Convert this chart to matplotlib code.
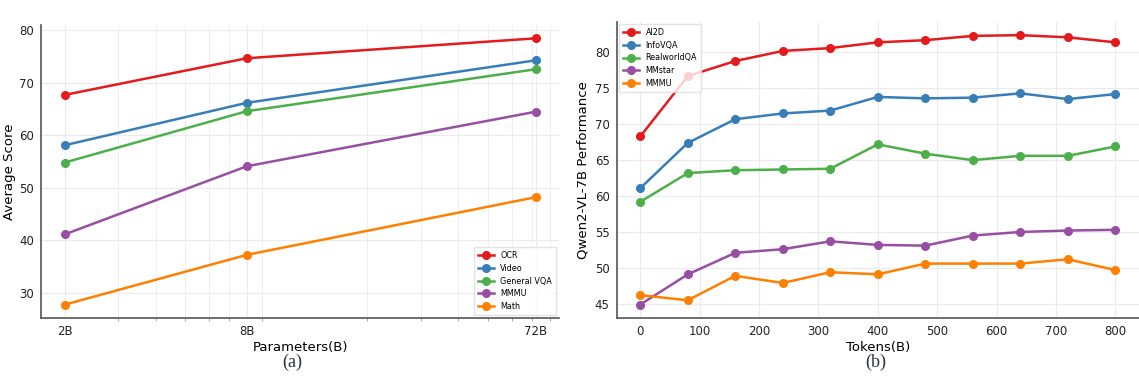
import matplotlib
matplotlib.use("Agg")
import matplotlib.pyplot as plt
from matplotlib.ticker import NullFormatter

# ---- data (a) ----
params = [2, 8, 72]
param_labels = ["2B", "8B", "72B"]
ocr = [67.7, 74.7, 78.5]
video = [58.1, 66.2, 74.3]
general_vqa = [54.8, 64.6, 72.6]
mmmu_a = [41.1, 54.1, 64.5]
math_a = [27.7, 37.2, 48.2]

# ---- data (b) ----
tokens = [0, 80, 160, 240, 320, 400, 480, 560, 640, 720, 800]
ai2d = [68.3, 76.7, 78.8, 80.2, 80.6, 81.4, 81.7, 82.3, 82.4, 82.1, 81.4]
infovqa = [61.1, 67.4, 70.7, 71.5, 71.9, 73.8, 73.6, 73.7, 74.3, 73.5, 74.2]
realworldqa = [59.2, 63.2, 63.6, 63.7, 63.8, 67.2, 65.9, 65.0, 65.6, 65.6, 66.9]
mmstar = [44.9, 49.1, 52.1, 52.6, 53.7, 53.2, 53.1, 54.5, 55.0, 55.2, 55.3]
mmmu_b = [46.2, 45.5, 48.9, 47.9, 49.4, 49.1, 50.6, 50.6, 50.6, 51.2, 49.7]

colors = ["#e41a1c", "#377eb8", "#4daf4a", "#984ea3", "#ff7f00"]

fig = plt.figure(figsize=(11.39, 3.9), dpi=100)
ax1 = fig.add_axes([0.036, 0.1846, 0.455, 0.7513])
ax2 = fig.add_axes([0.5413, 0.1846, 0.4587, 0.7598])

def style(ax):
    ax.set_facecolor("white")
    for s in ["top", "right"]:
        ax.spines[s].set_visible(False)
    for s in ["left", "bottom"]:
        ax.spines[s].set_color("#555555")
        ax.spines[s].set_linewidth(1.2)
    ax.tick_params(axis="both", which="major", length=0, labelsize=8.5,
                   colors="#222222", pad=5)
    ax.tick_params(axis="both", which="minor", length=2.5, color="#999999")
    ax.grid(True, which="major", color="#ebebeb", linewidth=0.8)
    ax.set_axisbelow(True)

lw = 1.8
ms = 5.5

series_a = [("OCR", ocr), ("Video", video), ("General VQA", general_vqa),
            ("MMMU", mmmu_a), ("Math", math_a)]
for (name, vals), c in zip(series_a, colors):
    ax1.plot(params, vals, "-o", color=c, lw=lw, ms=ms, label=name)
ax1.set_xscale("log")
style(ax1)
ax1.set_xticks(params)
ax1.set_xticklabels(param_labels)
ax1.xaxis.set_minor_formatter(NullFormatter())
ax1.grid(True, which="minor", axis="x", color="#efefef", linewidth=0.7)
ax1.set_yticks([30, 40, 50, 60, 70, 80])
ax1.set_xlabel("Parameters(B)", fontsize=9.5, labelpad=2)
ax1.set_ylabel("Average Score", fontsize=9.5, labelpad=2)
ax1.legend(loc="lower right", fontsize=5.8, frameon=True, fancybox=False,
           edgecolor="#dddddd", borderpad=0.5, labelspacing=0.45,
           handlelength=2.0, borderaxespad=0.4)

series_b = [("AI2D", ai2d), ("InfoVQA", infovqa), ("RealworldQA", realworldqa),
            ("MMstar", mmstar), ("MMMU", mmmu_b)]
for (name, vals), c in zip(series_b, colors):
    ax2.plot(tokens, vals, "-o", color=c, lw=lw, ms=ms, label=name)
style(ax2)
ax2.set_xticks([0, 100, 200, 300, 400, 500, 600, 700, 800])
ax2.set_yticks([45, 50, 55, 60, 65, 70, 75, 80])
ax2.set_xlabel("Tokens(B)", fontsize=9.5, labelpad=2)
ax2.set_ylabel("Qwen2-VL-7B Performance", fontsize=9.5, labelpad=4)
ax2.legend(loc="upper left", fontsize=5.8, frameon=True, fancybox=False,
           edgecolor="#dddddd", borderpad=0.5, labelspacing=0.45,
           handlelength=2.0, borderaxespad=0.3)

fig.text(292 / 1139, 1 - 362 / 390, "(a)", ha="center", va="center",
         fontsize=13, family="Liberation Serif", color="#2b3447")
fig.text(876 / 1139, 1 - 362 / 390, "(b)", ha="center", va="center",
         fontsize=13, family="Liberation Serif", color="#2b3447")

fig.savefig("out.png", dpi=100)
